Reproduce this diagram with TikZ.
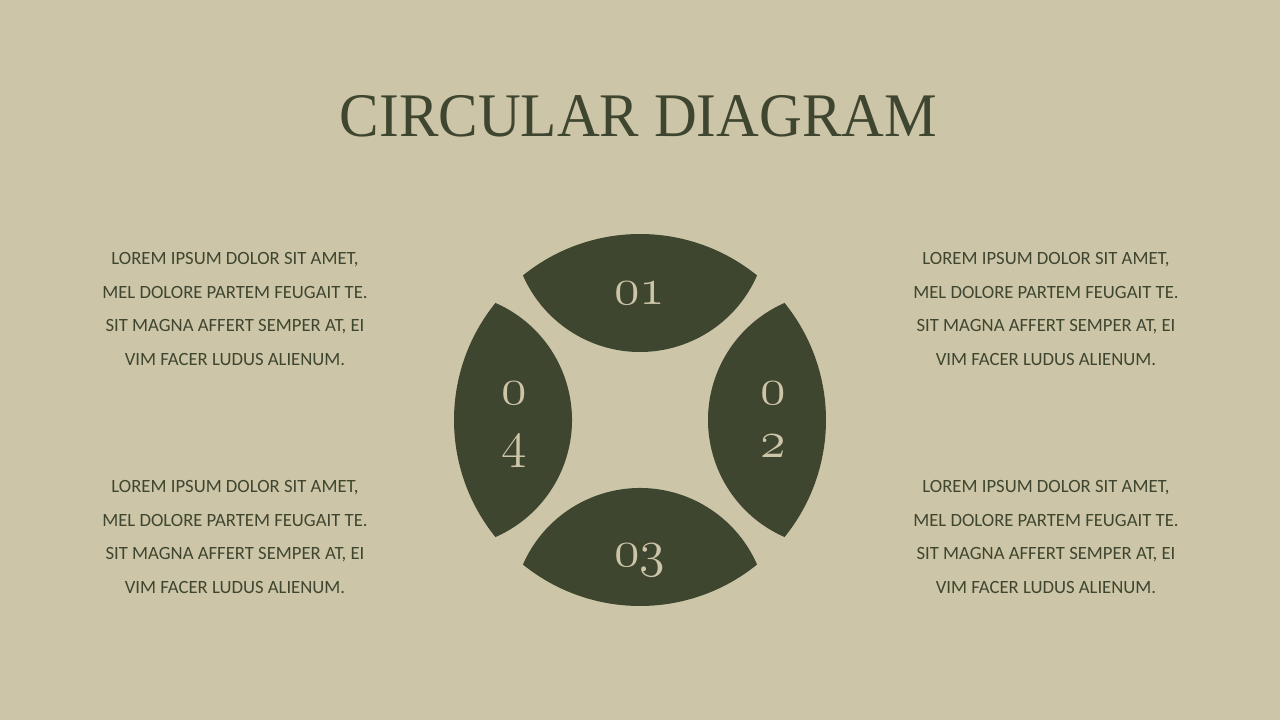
\documentclass[tikz,border=0pt]{standalone}
\usepackage{fontspec}
\setmainfont{Liberation Serif}
\newfontfamily\bodyfont{Carlito}
\definecolor{bgc}{RGB}{205,197,168}
\definecolor{dark}{RGB}{63,70,48}
\font\osdfont=cmmi12 at 52pt
\newcommand\osdig[1]{{\osdfont #1}}
\tikzset{
  seg/.style={fill=dark, draw=none},
  digit/.style={text=bgc, anchor=base, inner sep=0pt},
  body/.style={text=dark, align=center, inner sep=0pt,
    font=\bodyfont\fontsize{18.7}{33.6}\selectfont},
  title/.style={text=dark, inner sep=0pt, anchor=base,
    font=\fontsize{62}{62}\selectfont}
}
\begin{document}
\begin{tikzpicture}[x=1pt,y=1pt]
\fill[bgc] (0,0) rectangle (1280,720);
\useasboundingbox (0,0) rectangle (1280,720);
% segments
\foreach \a in {0,-90,-180,-270}{
  \begin{scope}[shift={(640,300)}, rotate=\a]
    \fill[seg] (129:186pt) arc[start angle=129, end angle=51, radius=186pt]
      arc[start angle=-23.65, end angle=-156.35, radius=127.8pt] -- cycle;
  \end{scope}
}
% title
\node[title] (ttl) at (638.5,583) {\scalebox{0.955}[1]{CIRCULAR DIAGRAM}};
% digits
\node[digit] (d1) at (640,415) {\osdig{01}};
\node[digit] (d3) at (640,153.3) {\osdig{03}};
\node[digit] (d2a) at (773,315) {\osdig{0}};
\node[digit] (d2b) at (773,262.7) {\osdig{2}};
\node[digit] (d4a) at (514,315) {\osdig{0}};
\node[digit] (d4b) at (514,262.7) {\osdig{4}};
% body texts
\node[body] (tl) at (235,411) {LOREM IPSUM DOLOR SIT AMET,\\MEL DOLORE PARTEM FEUGAIT TE.\\SIT MAGNA AFFERT SEMPER AT, EI\\VIM FACER LUDUS ALIENUM.};
\node[body] (tr) at (1046,411) {LOREM IPSUM DOLOR SIT AMET,\\MEL DOLORE PARTEM FEUGAIT TE.\\SIT MAGNA AFFERT SEMPER AT, EI\\VIM FACER LUDUS ALIENUM.};
\node[body] (bl) at (235,183) {LOREM IPSUM DOLOR SIT AMET,\\MEL DOLORE PARTEM FEUGAIT TE.\\SIT MAGNA AFFERT SEMPER AT, EI\\VIM FACER LUDUS ALIENUM.};
\node[body] (br) at (1046,183) {LOREM IPSUM DOLOR SIT AMET,\\MEL DOLORE PARTEM FEUGAIT TE.\\SIT MAGNA AFFERT SEMPER AT, EI\\VIM FACER LUDUS ALIENUM.};
\end{tikzpicture}
\end{document}
